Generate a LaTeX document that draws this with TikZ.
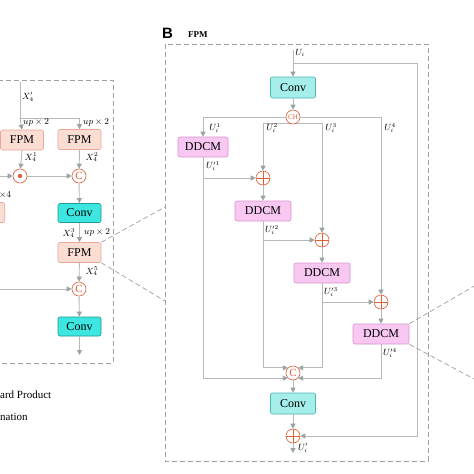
\documentclass[tikz,border=0pt]{standalone}
\usepackage{fontspec}
\setmainfont{Liberation Serif}
\newfontfamily\bsans{Liberation Sans}
\usetikzlibrary{arrows.meta}
\definecolor{lgray}{HTML}{B8B8B8}
\definecolor{agray}{HTML}{97A6A4}
\definecolor{dgray}{HTML}{A0A0A0}
\definecolor{fpmf}{HTML}{FBDDD4}
\definecolor{fpmb}{HTML}{E9A999}
\definecolor{convf}{HTML}{3DE6E0}
\definecolor{convb}{HTML}{1C9C98}
\definecolor{convlf}{HTML}{A6EEEA}
\definecolor{convlb}{HTML}{4DB5B0}
\definecolor{ddf}{HTML}{F8C8F2}
\definecolor{ddb}{HTML}{D894CF}
\definecolor{opred}{HTML}{E0603A}
\tikzset{
  conn/.style={draw=lgray, line width=0.9pt},
  arr/.style={conn, -{Triangle[length=5pt,width=5pt,color=agray]}},
  zoomline/.style={draw=dgray, line width=0.7pt, dash pattern=on 5pt off 3pt},
  boxbase/.style={rectangle, rounded corners=2pt, line width=0.6pt, inner sep=0pt, font=\fontsize{12}{12}\selectfont},
  fpmbox/.style={boxbase, draw=fpmb, fill=fpmf, minimum width=43pt, minimum height=20pt},
  convbox/.style={boxbase, draw=convb, fill=convf, minimum width=43pt, minimum height=19pt},
  convlbox/.style={boxbase, draw=convlb, fill=convlf, minimum width=45pt, minimum height=21pt},
  ddbox/.style={boxbase, draw=ddb, fill=ddf, minimum width=56pt, minimum height=20pt},
  opc/.style={circle, draw=opred, fill=white, minimum size=14pt, inner sep=0pt, line width=0.6pt, text=opred},
  pluscirc/.style={opc, path picture={\draw[opred,line width=0.6pt] (path picture bounding box.north) -- (path picture bounding box.south) (path picture bounding box.west) -- (path picture bounding box.east);}},
  lab/.style={inner sep=0pt, font=\fontsize{9}{10}\selectfont},
  legend/.style={inner sep=0pt, anchor=west, font=\fontsize{11}{12}\selectfont}
}
\begin{document}
\begin{tikzpicture}[x=1pt,y=-1pt]
\useasboundingbox (0,0) rectangle (474,474);
\clip (0,0) rectangle (474,474);
\fill[white] (0,0) rectangle (474,474);

% ---------------- left panel (partial) ----------------
\draw[zoomline] (-10,80) -- (113,80) -- (113,363) -- (-10,363);
\node[fpmbox, minimum width=25pt, anchor=east] (fpm0) at (5,212.5) {};
\node[fpmbox] (fpm1) at (22,140) {FPM};
\node[fpmbox] (fpm2) at (79.5,139.5) {FPM};
\node[opc] (odot) at (20,176) {};
\fill[opred] (odot) circle (2.2pt);
\node[opc, font=\fontsize{11}{11}\selectfont] (cat1) at (79,176) {C};
\node[convbox] (conv1) at (79.5,213) {Conv};
\node[fpmbox] (fpm3) at (79.5,252.5) {FPM};
\node[opc, font=\fontsize{11}{11}\selectfont] (cat2) at (79,289) {C};
\node[convbox] (conv2) at (79.5,326.5) {Conv};
\coordinate (xin) at (20,82);
\coordinate (xsplit) at (20,118);
\coordinate (xr) at (79.5,118);
\coordinate (lin1) at (-5,176);
\coordinate (lin2) at (-5,289);
\coordinate (lout) at (79.5,355);
\draw[conn] (xin) -- (xsplit) -- (xr);
\draw[arr] (xsplit) -- (fpm1.north);
\draw[arr] (xr) -- (fpm2.north);
\draw[arr] (fpm1.south) -- (odot);
\draw[arr] (fpm2.south) -- (cat1);
\draw[arr] (lin1) -- (odot);
\draw[arr] (odot) -- (cat1);
\draw[arr] (cat1) -- (conv1);
\draw[arr] (conv1) -- (fpm3);
\draw[arr] (fpm3) -- (cat2);
\draw[arr] (lin2) -- (cat2);
\draw[arr] (cat2) -- (conv2);
\draw[arr] (conv2) -- (lout);
\node[lab] at (28,97) {$X_4'$};
\node[lab, anchor=west] at (23,122) {$up\times 2$};
\node[lab, anchor=west] at (83,122) {$up\times 2$};
\node[lab] at (31,157) {$X_4^1$};
\node[lab] at (92,157) {$X_4^2$};
\node[lab, anchor=west] at (-1,195) {$\times 4$};
\node[lab] at (69,233) {$X_4^3$};
\node[lab, anchor=west] at (84,232) {$up\times 2$};
\node[lab] at (92,271) {$X_4^5$};
\node[legend] at (0,395) {ard Product};
\node[legend] at (0,417) {nation};

% zoom lines from FPM to panel B
\coordinate (zb1) at (165,207);
\coordinate (zb2) at (165,301);
\draw[zoomline] (fpm3.north east) -- (zb1);
\draw[zoomline] (fpm3.south east) -- (zb2);

% ---------------- right panel ----------------
\draw[zoomline] (165,44) rectangle (428,461);
\node[anchor=west, inner sep=0pt, font=\bsans\bfseries\fontsize{15}{15}\selectfont] at (162,33) {B};
\node[anchor=west, inner sep=0pt, font=\bfseries\fontsize{9}{9}\selectfont] at (188,35) {FPM};

\coordinate (uin) at (293,50);
\coordinate (ua) at (293,63);
\coordinate (ub) at (417,63);
\coordinate (uc) at (417,436);
\coordinate (s2) at (263,123);
\coordinate (s3) at (322,123);
\coordinate (uout) at (293,453);

\draw[conn] (s2) -- (s3);
\node[convlbox] (convT) at (293,87.5) {Conv};
\node[opc, font=\fontsize{7}{7}\selectfont] (ch) at (293,117) {CH};
\node[ddbox, minimum width=50pt] (dd1) at (203,147) {DDCM};
\node[pluscirc] (p1) at (263,178) {};
\node[ddbox] (dd2) at (263,211) {DDCM};
\node[pluscirc] (p2) at (322,240) {};
\node[ddbox] (dd3) at (322,273) {DDCM};
\node[pluscirc] (p3) at (381,302) {};
\node[ddbox] (dd4) at (381,334) {DDCM};
\node[opc, font=\fontsize{11}{11}\selectfont] (cat) at (293,373) {C};
\node[convlbox] (convB) at (293,403.5) {Conv};
\node[pluscirc] (pf) at (293,436) {};

\draw[arr] (uin) -- (convT.north);
\draw[arr] (ua) -- (ub) -- (uc) -- (pf.east);
\draw[arr] (convT) -- (ch);
\draw[arr] (ch.west) -| (dd1.north);
\draw[arr] (ch.east) -| (p3.north);
\draw[arr] (s2) -- (p1.north);
\draw[arr] (s3) -- (p2.north);
\draw[arr] (dd1.south) |- (p1.west);
\draw[arr] (dd1.south) |- (cat.225);
\draw[arr] (p1) -- (dd2);
\draw[arr] (dd2.south) |- (p2.west);
\draw[arr] (dd2.south) |- (cat.135);
\draw[arr] (p2) -- (dd3);
\draw[arr] (dd3.south) |- (p3.west);
\draw[arr] (dd3.south) |- (cat.45);
\draw[arr] (p3) -- (dd4);
\draw[arr] (dd4.south) |- (cat.-45);
\draw[arr] (cat) -- (convB);
\draw[arr] (convB) -- (pf);
\draw[arr] (pf) -- (uout);

\node[lab] at (300,53) {$U_i$};
\node[lab] at (215,128) {$U_i^1$};
\node[lab] at (272,128) {$U_i^2$};
\node[lab] at (331,128) {$U_i^3$};
\node[lab] at (390,128) {$U_i^4$};
\node[lab] at (213,166) {$U_i'^1$};
\node[lab] at (272,230) {$U_i'^2$};
\node[lab] at (331,292) {$U_i'^3$};
\node[lab] at (390,353) {$U_i'^4$};
\node[lab] at (303,448) {$U_i'$};

% zoom lines from DDCM to the right
\coordinate (zc1) at (476,285);
\coordinate (zc2) at (476,380);
\draw[zoomline] (dd4.north east) -- (zc1);
\draw[zoomline] (dd4.south east) -- (zc2);
\end{tikzpicture}
\end{document}
